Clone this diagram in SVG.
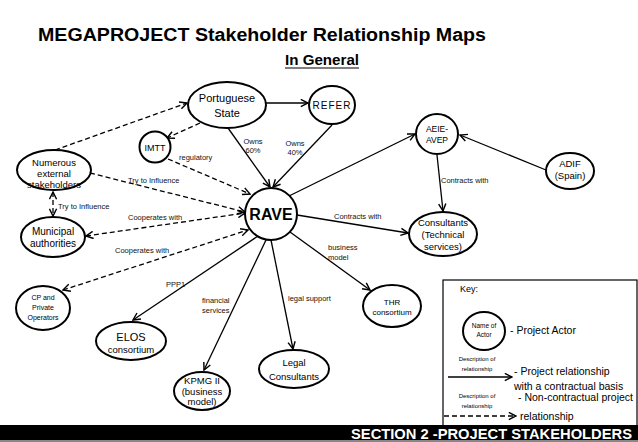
<svg xmlns="http://www.w3.org/2000/svg" width="638" height="442" viewBox="0 0 638 442">
<style>
.n{fill:#fff;stroke:#000;stroke-width:2}
.t{font-family:"Liberation Sans",Arial,sans-serif;fill:#000;text-anchor:middle}
.l{font-family:"Liberation Sans",Arial,sans-serif;fill:#111;font-size:7.5px}
.k{font-family:"Liberation Sans",Arial,sans-serif;fill:#000;font-size:10.5px}
.s{fill:none;stroke:#000;stroke-width:1.3;marker-end:url(#a)}
.d{fill:none;stroke:#000;stroke-width:1.3;stroke-dasharray:5,3;marker-end:url(#a)}
.b{marker-start:url(#a)}
</style>
<defs>
<marker id="a" viewBox="0 0 10 10" refX="9" refY="5" markerWidth="9" markerHeight="9" markerUnits="userSpaceOnUse" orient="auto-start-reverse">
<path d="M1,1 L9,5 L1,9" fill="none" stroke="#000" stroke-width="1.6"/>
</marker>
</defs>
<rect width="638" height="442" fill="#fff"/>
<text x="38" y="41" font-family="Liberation Sans,Arial,sans-serif" font-weight="bold" font-size="18" textLength="448" lengthAdjust="spacingAndGlyphs">MEGAPROJECT Stakeholder Relationship Maps</text>
<text x="285" y="65" font-family="Liberation Sans,Arial,sans-serif" font-weight="bold" font-size="14" textLength="74" lengthAdjust="spacingAndGlyphs">In General</text>
<line x1="285" y1="68" x2="359" y2="68" stroke="#000" stroke-width="1.2"/>

<g id="connectors">
<path class="d" d="M55,150 L187,103"/>
<path class="d" d="M200,123 L167,138"/>
<path class="d" d="M168,159 L250,194"/>
<path class="d" d="M90,173 L245,212"/>
<path class="d b" d="M53,192 L53,216"/>
<path class="d b" d="M86,236 L245,213"/>
<path class="d b" d="M63,290 L248,230"/>
<path class="s" d="M266,103 L308,103"/>
<path class="s" d="M228,128 L270,187"/>
<path class="s" d="M332,125 L273,187"/>
<path class="s" d="M289,196 L415,134"/>
<path class="s" d="M546,170 L460,135"/>
<path class="s" d="M437,155 L443,211"/>
<path class="s" d="M297,215 L408,233"/>
<path class="s" d="M290,232 L370,290"/>
<path class="s" d="M271,240 L293,349"/>
<path class="s" d="M266,240 L204,370"/>
<path class="s" d="M258,236 L133,320"/>
<text class="l" x="253" y="144" text-anchor="middle">Owns</text>
<text class="l" x="253" y="153" text-anchor="middle">60%</text>
<text class="l" x="295" y="146" text-anchor="middle">Owns</text>
<text class="l" x="295" y="155" text-anchor="middle">40%</text>
<text class="l" x="179" y="160">regulatory</text>
<text class="l" x="128" y="183">Try to Influence</text>
<text class="l" x="58" y="209">Try to Influence</text>
<text class="l" x="128" y="220">Cooperates with</text>
<text class="l" x="115" y="253">Cooperates with</text>
<text class="l" x="166" y="287">PPP1</text>
<text class="l" x="202" y="303">financial</text>
<text class="l" x="202" y="313">services</text>
<text class="l" x="288" y="301">legal support</text>
<text class="l" x="328" y="250">business</text>
<text class="l" x="328" y="260">model</text>
<text class="l" x="334" y="219">Contracts with</text>
<text class="l" x="441" y="183">Contracts with</text>
</g>

<g id="portuguese-state"><ellipse class="n" cx="227" cy="105" rx="39" ry="23"/><text class="t" x="227" y="102" font-size="11">Portuguese</text><text class="t" x="227" y="117" font-size="11">State</text></g>
<g id="refer"><ellipse class="n" cx="332" cy="105" rx="23" ry="19"/><text class="t" x="332" y="109" font-size="10" letter-spacing="1">REFER</text></g>
<g id="imtt"><circle class="n" cx="155" cy="147" r="15.5"/><text class="t" x="155" y="151" font-size="9">IMTT</text></g>
<g id="numerous"><ellipse class="n" cx="54" cy="170" rx="37" ry="20"/><text class="t" x="54" y="166" font-size="9.5">Numerous</text><text class="t" x="54" y="177" font-size="9.5">external</text><text class="t" x="54" y="188" font-size="9.5">stakeholders</text></g>
<g id="municipal"><ellipse class="n" cx="53" cy="237" rx="32" ry="20"/><text class="t" x="53" y="235" font-size="10">Municipal</text><text class="t" x="53" y="247" font-size="10">authorities</text></g>
<g id="cp-private"><ellipse class="n" cx="43" cy="308" rx="27" ry="22"/><text class="t" x="43" y="300" font-size="7">CP and</text><text class="t" x="43" y="310" font-size="7">Private</text><text class="t" x="43" y="320" font-size="7">Operators</text></g>
<g id="elos"><ellipse class="n" cx="131" cy="341" rx="35" ry="19"/><text class="t" x="131" y="341" font-size="11">ELOS</text><text class="t" x="131" y="353" font-size="9.5">consortium</text></g>
<g id="kpmg"><ellipse class="n" cx="202" cy="391" rx="28" ry="19"/><text class="t" x="202" y="384" font-size="9.5">KPMG II</text><text class="t" x="202" y="395" font-size="9.5">(business</text><text class="t" x="202" y="405" font-size="9.5">model)</text></g>
<g id="legal"><ellipse class="n" cx="294" cy="369" rx="35" ry="19"/><text class="t" x="294" y="366" font-size="9.5">Legal</text><text class="t" x="294" y="380" font-size="9.5">Consultants</text></g>
<g id="thr"><ellipse class="n" cx="392" cy="306" rx="29" ry="21"/><text class="t" x="392" y="305" font-size="8">THR</text><text class="t" x="392" y="315" font-size="8">consortium</text></g>
<g id="rave"><circle class="n" cx="271" cy="214" r="26"/><text class="t" x="271" y="220" font-size="16" font-weight="bold">RAVE</text></g>
<g id="consultants"><ellipse class="n" cx="443" cy="234" rx="34" ry="22"/><text class="t" x="443" y="226" font-size="9.5">Consultants</text><text class="t" x="443" y="238" font-size="9.5">(Technical</text><text class="t" x="443" y="250" font-size="9.5">services)</text></g>
<g id="aeie-avep"><ellipse class="n" cx="437" cy="134" rx="21" ry="20"/><text class="t" x="437" y="132" font-size="8.5">AEIE-</text><text class="t" x="437" y="143" font-size="8.5">AVEP</text></g>
<g id="adif"><ellipse class="n" cx="570" cy="171" rx="24" ry="18"/><text class="t" x="570" y="167" font-size="9.5">ADIF</text><text class="t" x="570" y="179" font-size="9.5">(Spain)</text></g>

<g id="key">
<rect x="443" y="280" width="194" height="146" fill="#fff" stroke="#000" stroke-width="1.2"/>
<text x="460" y="292" font-family="Liberation Sans,Arial,sans-serif" font-size="9">Key:</text>
<ellipse class="n" cx="484" cy="331" rx="21" ry="19" stroke-width="1.6"/>
<text class="t" x="484" y="328" font-size="6.5">Name of</text>
<text class="t" x="484" y="337" font-size="6.5">Actor</text>
<text class="k" x="510" y="334" font-size="9.5">- Project Actor</text>
<text class="t" x="477" y="361" font-size="6">Description of</text>
<text class="t" x="477" y="371" font-size="6">relationship</text>
<path class="s" d="M448,377 L512,377"/>
<text class="k" x="514" y="375">-  Project relationship</text>
<text class="k" x="514" y="390">with a contractual basis</text>
<text class="t" x="477" y="398" font-size="6">Description of</text>
<text class="t" x="477" y="408" font-size="6">relationship</text>
<text class="k" x="518" y="401">- Non-contractual project</text>
<path class="d" d="M444,416 L516,416" stroke-width="1.8" stroke-dasharray="6,4"/>
<text class="k" x="520" y="420">relationship</text>
</g>

<rect x="0" y="425" width="638" height="15" fill="#000"/>
<rect x="0" y="440" width="638" height="2" fill="#888"/>
<text x="632" y="439" text-anchor="end" font-family="Liberation Sans,Arial,sans-serif" font-weight="bold" font-size="15" fill="#fff" textLength="281" lengthAdjust="spacingAndGlyphs">SECTION 2 -PROJECT STAKEHOLDERS</text>
</svg>
